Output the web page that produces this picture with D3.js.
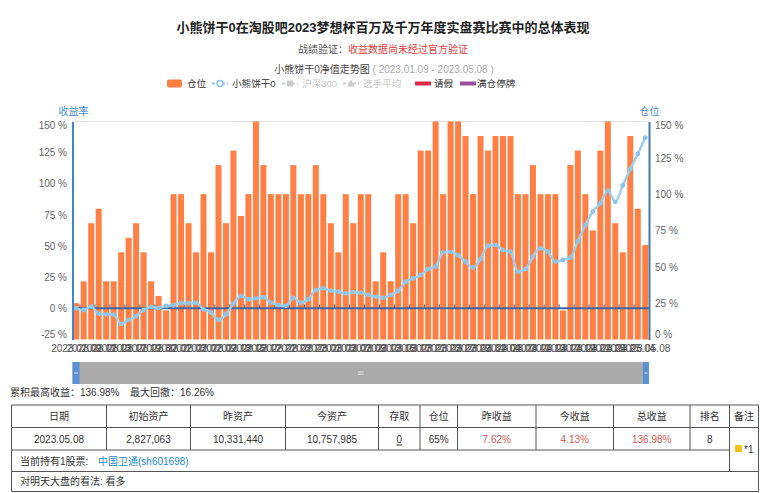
<!DOCTYPE html>
<html><head><meta charset="utf-8">
<script src="https://cdn.jsdelivr.net/npm/d3@7/dist/d3.min.js"></script>
<style>
body{margin:0;background:#fff;}
svg{display:block;font-family:"Liberation Sans","Noto Sans CJK SC",sans-serif;}
</style></head><body>
<svg id="chart" width="760" height="493"></svg>
<script>
const dates = [
"2023.01.09","2023.01.10","2023.01.11","2023.01.12","2023.01.13","2023.01.16","2023.01.17","2023.01.18","2023.01.19","2023.01.20",
"2023.01.30","2023.01.31","2023.02.01","2023.02.02","2023.02.03","2023.02.06","2023.02.07","2023.02.08","2023.02.09","2023.02.10",
"2023.02.13","2023.02.14","2023.02.15","2023.02.16","2023.02.17","2023.02.20","2023.02.21","2023.02.22","2023.02.23","2023.02.24",
"2023.02.27","2023.02.28","2023.03.01","2023.03.02","2023.03.03","2023.03.06","2023.03.07","2023.03.08","2023.03.09","2023.03.10",
"2023.03.13","2023.03.14","2023.03.15","2023.03.16","2023.03.17","2023.03.20","2023.03.21","2023.03.22","2023.03.23","2023.03.24",
"2023.03.27","2023.03.28","2023.03.29","2023.03.30","2023.03.31","2023.04.03","2023.04.04","2023.04.06","2023.04.07","2023.04.10",
"2023.04.11","2023.04.12","2023.04.13","2023.04.14","2023.04.17","2023.04.18","2023.04.19","2023.04.20","2023.04.21","2023.04.24",
"2023.04.25","2023.04.26","2023.04.27","2023.04.28","2023.05.04","2023.05.05","2023.05.08"];
// 仓位 (%)
const positionPct = [
25,40,80,90,40,40,60,70,80,60,
40,30,20,100,100,80,60,100,60,120,
80,130,85,100,150,120,100,100,100,120,
100,100,120,100,80,60,100,80,100,100,
40,60,40,100,100,80,130,130,150,100,
150,150,140,100,140,130,140,140,140,100,
100,120,100,100,100,20,120,130,100,75,
130,150,80,60,140,90,65];
// 小熊饼干0 收益率 (%)
const returnPct = [
0,-1.3,1.4,-4.3,-4.8,-5,-12.5,-9.3,-6.3,-1.3,
1.2,0.3,2,2.5,4.3,4.2,4.5,-0.8,-3.3,-9.3,
-4.8,4,10,7.3,8,8.9,4.6,2.7,2,8.6,
4.6,7.3,14.8,16,14.2,13.4,12,13,12.7,10.8,
9.4,8.6,10.8,14,21.4,24,26.8,31.6,33.5,45,
45.4,42.7,37.4,32.6,39.6,50.3,50.8,46.7,45.5,29.4,
31.5,41.5,48.2,45.5,37.5,38.8,40.7,54,66.8,77.7,
84.4,94.5,85.5,98.8,111.7,124,136.98];
const leftTicks = [-25,0,25,50,75,100,125,150];
const rightTicks = [0,25,50,75,100,125,150];

const legendItems = [
  {name:"仓位", type:"bar", color:"#ff7f45", on:true},
  {name:"小熊饼干0", type:"circle", color:"#8cc8ec", on:true},
  {name:"沪深300", type:"square", color:"#cccccc", on:false},
  {name:"选手平均", type:"triangle", color:"#cccccc", on:false},
  {name:"请假", type:"thick", color:"#dc2a4a", on:true},
  {name:"满仓停牌", type:"thick", color:"#9b4f96", on:true}
];
const tableHeaders = ["日期","初始资产","昨资产","今资产","存取","仓位","昨收益","今收益","总收益","排名","备注"];
const tableValues = ["2023.05.08","2,827,063","10,331,440","10,757,985","0","65%","7.62%","4.13%","136.98%","8"];
const redCols = [6,7,8];

const svg = d3.select("#chart");
const P = {l:72.5, r:649, t:121.5, b:339.5};
const BAR = "#ff7f45";

// titles
svg.append("text").attr("x",383).attr("y",27).attr("text-anchor","middle").attr("dominant-baseline","central")
  .attr("font-size",13).attr("font-weight","bold").attr("fill","#222")
  .text("小熊饼干0在淘股吧2023梦想杯百万及千万年度实盘赛比赛中的总体表现");
const sub = svg.append("text").attr("x",383).attr("y",48.5).attr("text-anchor","middle").attr("dominant-baseline","central").attr("font-size",10);
sub.append("tspan").attr("fill","#555").text("战绩验证：");
sub.append("tspan").attr("fill","#e2403f").text("收益数据尚未经过官方验证");
const ct = svg.append("text").attr("x",384).attr("y",69).attr("text-anchor","middle").attr("dominant-baseline","central").attr("font-size",10);
ct.append("tspan").attr("fill","#444").text("小熊饼干0净值走势图");
ct.append("tspan").attr("fill","#aaa").text(" ( 2023.01.09 - 2023.05.08 )");

// legend
const lgX = [167,212,282,343,415,460], lgT = [187,232,302,363,434,477];
const lg = svg.append("g");
legendItems.forEach((it,i)=>{
  const sx = lgX[i], ly = 83.5;
  if(it.type==="bar"){
    lg.append("rect").attr("x",sx).attr("y",ly-4).attr("width",15).attr("height",8).attr("rx",2).attr("fill",it.color);
  } else if(it.type==="thick"){
    lg.append("line").attr("x1",sx).attr("x2",sx+16).attr("y1",ly).attr("y2",ly).attr("stroke",it.color).attr("stroke-width",4);
  } else {
    lg.append("line").attr("x1",sx).attr("x2",sx+16).attr("y1",ly).attr("y2",ly).attr("stroke",it.color).attr("stroke-width",2).attr("stroke-dasharray","3,2");
    if(it.type==="circle") lg.append("circle").attr("cx",sx+8).attr("cy",ly).attr("r",3).attr("fill","#fff").attr("stroke",it.color).attr("stroke-width",1.5);
    if(it.type==="square") lg.append("rect").attr("x",sx+5).attr("y",ly-3).attr("width",6).attr("height",6).attr("fill",it.color);
    if(it.type==="triangle") lg.append("path").attr("d",`M${sx+8},${ly-4}L${sx+12},${ly+3}L${sx+4},${ly+3}Z`).attr("fill",it.color);
  }
  lg.append("text").attr("x",lgT[i]).attr("y",ly).attr("dominant-baseline","central").attr("font-size",9.6)
    .attr("fill",it.on?"#333":"#c8c8c8").text(it.name);
});

// scales
const x = d3.scaleBand().domain(dates).range([P.l,P.r]).paddingInner(0.2).paddingOuter(0.1);
const yR = d3.scaleLinear().domain([0,150]).range([P.b,P.t]);
const yL = d3.scaleLinear().domain([-25,150]).range([P.b,P.t]);

// top grid line
svg.append("line").attr("x1",P.l).attr("x2",P.r).attr("y1",P.t).attr("y2",P.t).attr("stroke","#e4e4e4");

// bars
svg.append("g").selectAll("rect").data(dates).join("rect")
  .attr("x",d=>x(d)).attr("width",x.bandwidth())
  .attr("y",(d,i)=>yR(Math.min(positionPct[i],150)))
  .attr("height",(d,i)=>P.b-yR(Math.min(positionPct[i],150)))
  .attr("fill",BAR);

// zero line with ticks
const y0 = yL(0);
svg.append("line").attr("x1",P.l).attr("x2",P.r).attr("y1",y0).attr("y2",y0).attr("stroke","#3e66a8").attr("stroke-width",2);
const tickIdx = dates.map((d,i)=>i).filter(i=>i%2===1);
svg.append("g").selectAll("line").data(tickIdx).join("line")
  .attr("x1",i=>x(dates[i])-x.step()*x.paddingInner()/2).attr("x2",i=>x(dates[i])-x.step()*x.paddingInner()/2)
  .attr("y1",y0).attr("y2",y0-4).attr("stroke","#3e66a8").attr("stroke-width",1);

// return line
const pts = dates.map((d,i)=>[x(d)+x.bandwidth()/2, yL(returnPct[i])]);
svg.append("path").attr("d",d3.line().curve(d3.curveMonotoneX)(pts))
  .attr("fill","none").attr("stroke","#9bd1ef").attr("stroke-width",2.5);
svg.append("g").selectAll("circle").data(pts).join("circle")
  .attr("cx",p=>p[0]).attr("cy",p=>p[1]).attr("r",2.4).attr("fill","#8ec6e8");

// axes
const clampY = v => Math.max(125, Math.min(334, v));
const axL = svg.append("g").attr("transform",`translate(${P.l},0)`)
  .call(d3.axisLeft(yL).tickValues(leftTicks).tickFormat(d=>d+" %").tickSize(0).tickSizeOuter(0).tickPadding(5.5));
axL.select(".domain").attr("stroke","#3f86cf").attr("stroke-width",2);
axL.selectAll(".tick text").attr("font-size",10).attr("fill","#666").attr("font-family",null)
  .attr("y",d=>clampY(yL(d))-yL(d));
const axR = svg.append("g").attr("transform",`translate(${P.r},0)`)
  .call(d3.axisRight(yR).tickValues(rightTicks).tickFormat(d=>d+" %").tickSize(0).tickSizeOuter(0).tickPadding(6));
axR.select(".domain").attr("stroke","#4776a8").attr("stroke-width",2);
axR.selectAll(".tick text").attr("font-size",10).attr("fill","#666").attr("font-family",null)
  .attr("y",d=>clampY(yR(d))-yR(d));
svg.append("text").attr("x",73.5).attr("y",111.5).attr("text-anchor","middle").attr("dominant-baseline","central")
  .attr("font-size",10).attr("fill","#4a8ccc").text("收益率");
svg.append("text").attr("x",649.5).attr("y",111.5).attr("text-anchor","middle").attr("dominant-baseline","central")
  .attr("font-size",10).attr("fill","#4a8ccc").text("仓位");

// x labels
const axX = svg.append("g").attr("transform",`translate(0,${P.b})`)
  .call(d3.axisBottom(x).tickValues(dates.filter((d,i)=>i%2===0)).tickSize(0).tickPadding(5));
axX.select(".domain").remove();
axX.selectAll(".tick text").attr("font-size",10).attr("fill","#555").attr("font-family",null);

// navigator
const nav = svg.append("g");
nav.append("rect").attr("x",P.l).attr("y",362).attr("width",P.r-P.l).attr("height",22).attr("fill","#aaaaaa");
[[P.l,7],[P.r-6,6]].forEach(([hx,hw])=>{
  nav.append("rect").attr("x",hx).attr("y",362).attr("width",hw).attr("height",22).attr("fill","#5a90d4");
  nav.append("line").attr("x1",hx+1.5).attr("x2",hx+hw-1.5).attr("y1",373).attr("y2",373).attr("stroke","#dfe8f5").attr("stroke-width",1);
});
[-1.5,0,1.5].forEach(o=>nav.append("line").attr("x1",(P.l+P.r)/2-3).attr("x2",(P.l+P.r)/2+3)
  .attr("y1",373+o).attr("y2",373+o).attr("stroke","#d8d8d8").attr("stroke-width",0.8));

// stats
svg.append("text").attr("x",10).attr("y",392).attr("dominant-baseline","central").attr("font-size",10).attr("fill","#333").text("累积最高收益：136.98%");
svg.append("text").attr("x",130).attr("y",392).attr("dominant-baseline","central").attr("font-size",10).attr("fill","#333").text("最大回撤：16.26%");

// table
const cols = [11.5,106.5,190.5,285.5,378.5,420,457.5,536,613.5,690,729.5,758.5];
const rows = [405,427.5,450,471.5,491.5];
const tb = svg.append("g").attr("stroke","#555").attr("stroke-width",1);
const hl = (y,x1,x2)=>tb.append("line").attr("x1",x1).attr("x2",x2).attr("y1",y).attr("y2",y);
const vl = (xx,y1,y2)=>tb.append("line").attr("x1",xx).attr("x2",xx).attr("y1",y1).attr("y2",y2);
hl(rows[0],cols[0],cols[11]); hl(rows[1],cols[0],cols[11]); hl(rows[2],cols[0],cols[10]);
hl(rows[3],cols[0],cols[11]); hl(rows[4],cols[0],cols[11]);
vl(cols[0],rows[0],rows[4]); vl(cols[11],rows[0],rows[4]);
for(let c=1;c<10;c++) vl(cols[c],rows[0],rows[2]);
vl(cols[10],rows[0],rows[3]);
const tt = svg.append("g").attr("font-size",10);
tableHeaders.forEach((h,i)=>{
  tt.append("text").attr("x",(cols[i]+cols[i+1])/2).attr("y",416.5).attr("text-anchor","middle").attr("dominant-baseline","central").attr("fill","#333").text(h);
});
tableValues.forEach((v,i)=>{
  const t = tt.append("text").attr("x",(cols[i]+cols[i+1])/2).attr("y",439).attr("text-anchor","middle").attr("dominant-baseline","central")
    .attr("fill",redCols.includes(i)?"#e05656":"#333").text(v);
  if(i===4) t.attr("text-decoration","underline");
});
tt.append("rect").attr("x",735).attr("y",445).attr("width",7).attr("height",7).attr("fill","#f5c21a");
tt.append("text").attr("x",744).attr("y",449).attr("dominant-baseline","central").attr("fill","#333").text("*1");
const r3 = tt.append("text").attr("x",20).attr("y",461).attr("dominant-baseline","central");
r3.append("tspan").attr("fill","#333").text("当前持有1股票:");
r3.append("tspan").attr("x",98).attr("fill","#2a8bd0").text("中国卫通(sh601698)");
tt.append("text").attr("x",20).attr("y",481.5).attr("dominant-baseline","central").attr("fill","#333").text("对明天大盘的看法: 看多");
</script>
</body></html>
